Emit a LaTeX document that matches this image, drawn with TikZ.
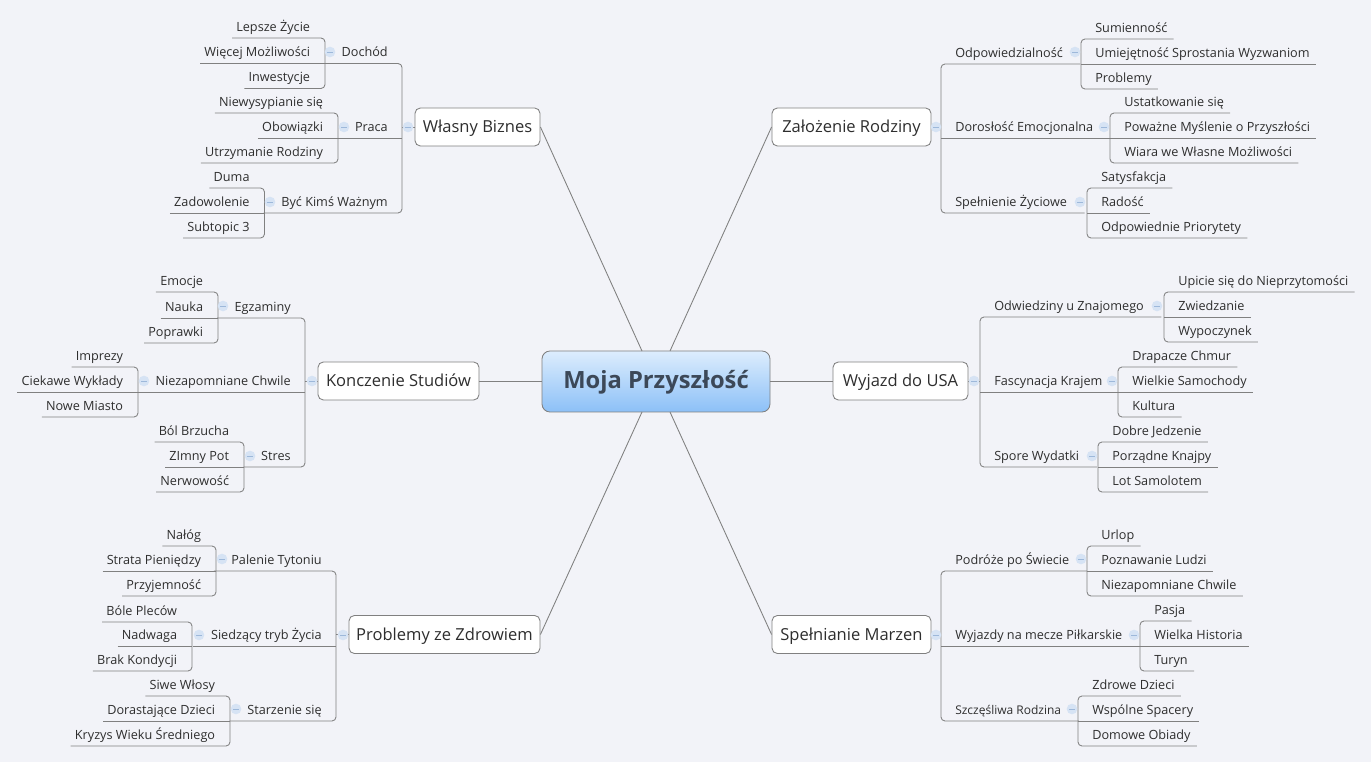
\documentclass[tikz,border=0pt]{standalone}
\usepackage{fontspec}
\setmainfont{Open Sans}
\definecolor{paper}{HTML}{F2F3F8}
\definecolor{wire}{HTML}{808080}
\definecolor{ink}{HTML}{2E2E2E}
\definecolor{rootink}{HTML}{3C4858}
\definecolor{foldblue}{HTML}{D6E3F4}
\definecolor{foldbar}{HTML}{9DB8DA}
\definecolor{RootTop}{HTML}{DDEDFD}
\definecolor{RootBottom}{HTML}{8CC0F7}
\tikzset{
  wired/.style={draw=wire,line width=0.65pt},
  elbow/.style={wired,rounded corners=3pt},
  label/.style={font=\fontsize{9.5pt}{11pt}\selectfont,text=ink,inner ysep=2.5pt,inner xsep=0pt,text height=7.5pt,text depth=2.5pt},
  leafl/.style={label,anchor=south east,execute at begin node=\kern3pt,execute at end node=\kern11pt},
  leafr/.style={label,anchor=south west,execute at begin node=\kern10.5pt,execute at end node=\kern4.5pt},
  subl/.style={label,anchor=south east,execute at begin node=\kern13pt,execute at end node=\kern10.5pt},
  subr/.style={label,anchor=south west,execute at begin node=\kern10.5pt,execute at end node=\kern13pt},
  topic/.style={draw=wire,line width=0.65pt,fill=white,rounded corners=4pt,font=\fontsize{12.4pt}{15pt}\selectfont,text=ink,minimum height=28.5pt,inner xsep=0pt,inner ysep=0pt,text height=11pt,text depth=2.5pt},
  root/.style={draw=wire,line width=0.65pt,rounded corners=6pt,top color=RootTop,bottom color=RootBottom,font=\fontsize{17.8pt}{22pt}\selectfont\bfseries,text=rootink,minimum width=171pt,minimum height=45.75pt,inner ysep=0pt,text height=13pt,text depth=3.2pt},
  fold/.style={circle,fill=foldblue,minimum size=8pt,inner sep=0pt,path picture={\draw[foldbar,line width=0.6pt] ([xshift=-2.2pt]path picture bounding box.center)--([xshift=2.2pt]path picture bounding box.center);}},
}
% three children hanging on one trunk
\newcommand{\twigl}[3]{\draw[elbow] (#1.south west)--(#1.south east)--(#3.south east)--(#3.south west); \draw[wired] (#2.south west)--(#2.south east);}
\newcommand{\twigr}[3]{\draw[elbow] (#1.south east)--(#1.south west)--(#3.south west)--(#3.south east); \draw[wired] (#2.south west)--(#2.south east);}
\begin{document}
\begin{tikzpicture}[x=0.75pt,y=-0.75pt]
  \fill[paper] (0,0) rectangle (1371,762);

  % centre
  \node [root] (przyszlosc) at (656,381.5) {Moja Przyszłość};
  \coordinate (rootnw) at (642,351);
  \coordinate (rootne) at (670,351);
  \coordinate (rootsw) at (642,412);
  \coordinate (rootse) at (670,412);

  % topics
  \node [topic,minimum width=93.75pt] (biznes) at (477.5,127) {Własny Biznes};
  \node [topic,minimum width=119.25pt] (rodzina) at (851.5,127) {Założenie Rodziny};
  \node [topic,minimum width=120.75pt] (studia) at (398.5,381) {Konczenie Studiów};
  \node [topic,minimum width=101.25pt] (usa) at (900.5,381) {Wyjazd do USA};
  \node [topic,minimum width=143.25pt] (zdrowie) at (444.5,634.5) {Problemy ze Zdrowiem};
  \node [topic,minimum width=119.25pt] (marzenia) at (851.5,634.5) {Spełnianie Marzen};

  % Wlasny Biznes
  \node [subl] (dochod) at (402,63.5) {Dochód};
  \node [subl] (praca) at (402,138) {Praca};
  \node [subl] (wazny) at (402,213) {Być Kimś Ważnym};
  \node [leafl] (zycie) at (325,38) {Lepsze Życie};
  \node [leafl] (mozliwosci) at (325,63.5) {Więcej Możliwości};
  \node [leafl] (inwestycje) at (325,88.5) {Inwestycje};
  \node [leafl] (niewysypianie) at (338,113) {Niewysypianie się};
  \node [leafl] (obowiazki) at (338,138) {Obowiązki};
  \node [leafl] (utrzymanie) at (338,163) {Utrzymanie Rodziny};
  \node [leafl] (duma) at (264.5,188) {Duma};
  \node [leafl] (zadowolenie) at (264.5,213) {Zadowolenie};
  \node [leafl] (subtopic) at (264.5,238) {Subtopic 3};

  % Zalozenie Rodziny
  \node [subr] (odpowiedzialnosc) at (941,64) {Odpowiedzialność};
  \node [subr] (dorosłosc) at (941,138) {Dorosłość Emocjonalna};
  \node [subr] (spelnienie) at (941,213) {Spełnienie Życiowe};
  \node [leafr] (sumiennosc) at (1081,39) {Sumienność};
  \node [leafr] (wyzwania) at (1081,64) {Umiejętność Sprostania Wyzwaniom};
  \node [leafr] (problemy) at (1081,89) {Problemy};
  \node [leafr] (ustatkowanie) at (1110,113) {Ustatkowanie się};
  \node [leafr] (myslenie) at (1110,138) {Poważne Myślenie o Przyszłości};
  \node [leafr] (wiara) at (1110,163) {Wiara we Własne Możliwości};
  \node [leafr] (satysfakcja) at (1087,188) {Satysfakcja};
  \node [leafr] (radosc) at (1087,213) {Radość};
  \node [leafr] (priorytety) at (1087,238) {Odpowiednie Priorytety};

  % Konczenie Studiow
  \node [subl] (egzaminy) at (305,318) {Egzaminy};
  \node [subl] (chwile) at (305,392) {Niezapomniane Chwile};
  \node [subl] (stres) at (305,467) {Stres};
  \node [leafl] (emocje) at (218,292) {Emocje};
  \node [leafl] (nauka) at (218,318) {Nauka};
  \node [leafl] (poprawki) at (218,343) {Poprawki};
  \node [leafl] (imprezy) at (138,367) {Imprezy};
  \node [leafl] (wyklady) at (138,392) {Ciekawe Wykłady};
  \node [leafl] (miasto) at (138,417) {Nowe Miasto};
  \node [leafl] (brzuch) at (244,442) {Ból Brzucha};
  \node [leafl] (pot) at (244,467) {ZImny Pot};
  \node [leafl] (nerwowosc) at (244,492) {Nerwowość};

  % Wyjazd do USA
  \node [subr] (znajomy) at (980,317) {Odwiedziny u Znajomego};
  \node [subr] (fascynacja) at (980,392) {Fascynacja Krajem};
  \node [subr] (wydatki) at (980,467) {Spore Wydatki};
  \node [leafr] (upicie) at (1164,292) {Upicie się do Nieprzytomości};
  \node [leafr] (zwiedzanie) at (1164,317) {Zwiedzanie};
  \node [leafr] (wypoczynek) at (1164,342) {Wypoczynek};
  \node [leafr] (drapacze) at (1118,367) {Drapacze Chmur};
  \node [leafr] (samochody) at (1118,392) {Wielkie Samochody};
  \node [leafr] (kultura) at (1118,417) {Kultura};
  \node [leafr] (jedzenie) at (1098,442) {Dobre Jedzenie};
  \node [leafr] (knajpy) at (1098,467) {Porządne Knajpy};
  \node [leafr] (samolot) at (1098,492) {Lot Samolotem};

  % Problemy ze Zdrowiem
  \node [subl] (tyton) at (336,571) {Palenie Tytoniu};
  \node [subl] (siedzacy) at (336,646) {Siedzący tryb Życia};
  \node [subl] (starzenie) at (336,721) {Starzenie się};
  \node [leafl] (nalog) at (216,546) {Nałóg};
  \node [leafl] (strata) at (216,571) {Strata Pieniędzy};
  \node [leafl] (przyjemnosc) at (216,596) {Przyjemność};
  \node [leafl] (plecy) at (192,622) {Bóle Pleców};
  \node [leafl] (nadwaga) at (192,646) {Nadwaga};
  \node [leafl] (kondycja) at (192,671) {Brak Kondycji};
  \node [leafl] (wlosy) at (230,696) {Siwe Włosy};
  \node [leafl] (dzieci) at (230,721) {Dorastające Dzieci};
  \node [leafl] (kryzys) at (230,746) {Kryzys Wieku Średniego};

  % Spelnianie Marzen
  \node [subr] (podroze) at (941,571) {Podróże po Świecie};
  \node [subr] (mecze) at (941,646) {Wyjazdy na mecze Piłkarskie};
  \node [subr,font=\fontsize{9pt}{11pt}\selectfont] (szczescie) at (941,721) {Szczęśliwa Rodzina};
  \node [leafr] (urlop) at (1087,546) {Urlop};
  \node [leafr] (ludzie) at (1087,571) {Poznawanie Ludzi};
  \node [leafr] (niezapomniane) at (1087,596) {Niezapomniane Chwile};
  \node [leafr] (pasja) at (1140,621) {Pasja};
  \node [leafr] (historia) at (1140,646) {Wielka Historia};
  \node [leafr] (turyn) at (1140,671) {Turyn};
  \node [leafr] (zdrowe) at (1078,696) {Zdrowe Dzieci};
  \node [leafr] (spacery) at (1078,721) {Wspólne Spacery};
  \node [leafr] (obiady) at (1078,746) {Domowe Obiady};

  % centre to topics
  \draw [wired] (biznes.east)--(rootnw);
  \draw [wired] (rodzina.west)--(rootne);
  \draw [wired] (zdrowie.east)--(rootsw);
  \draw [wired] (marzenia.west)--(rootse);
  \draw [wired] (studia.east)--(studia.east -| przyszlosc.west);
  \draw [wired] (usa.west)--(usa.west -| przyszlosc.east);

  % topics to trunks
  \draw [wired] (biznes.west)--(biznes.west -| praca.south east);
  \draw [wired] (rodzina.east)--(rodzina.east -| dorosłosc.south west);
  \draw [wired] (studia.west)--(studia.west -| chwile.south east);
  \draw [wired] (usa.east)--(usa.east -| fascynacja.south west);
  \draw [wired] (zdrowie.west)--(zdrowie.west -| siedzacy.south east);
  \draw [wired] (marzenia.east)--(marzenia.east -| mecze.south west);

  \twigl{dochod}{praca}{wazny}
  \twigl{zycie}{mozliwosci}{inwestycje}
  \twigl{niewysypianie}{obowiazki}{utrzymanie}
  \twigl{duma}{zadowolenie}{subtopic}
  \twigr{odpowiedzialnosc}{dorosłosc}{spelnienie}
  \twigr{sumiennosc}{wyzwania}{problemy}
  \twigr{ustatkowanie}{myslenie}{wiara}
  \twigr{satysfakcja}{radosc}{priorytety}
  \twigl{egzaminy}{chwile}{stres}
  \twigl{emocje}{nauka}{poprawki}
  \twigl{imprezy}{wyklady}{miasto}
  \twigl{brzuch}{pot}{nerwowosc}
  \twigr{znajomy}{fascynacja}{wydatki}
  \twigr{upicie}{zwiedzanie}{wypoczynek}
  \twigr{drapacze}{samochody}{kultura}
  \twigr{jedzenie}{knajpy}{samolot}
  \twigl{tyton}{siedzacy}{starzenie}
  \twigl{nalog}{strata}{przyjemnosc}
  \twigl{plecy}{nadwaga}{kondycja}
  \twigl{wlosy}{dzieci}{kryzys}
  \twigr{podroze}{mecze}{szczescie}
  \twigr{urlop}{ludzie}{niezapomniane}
  \twigr{pasja}{historia}{turyn}
  \twigr{zdrowe}{spacery}{obiady}

  % collapse marks
  \node [fold] (foldbiznes) at (408,127) {};
  \node [fold] (folddochod) at (330,52) {};
  \node [fold] (foldpraca) at (344,127) {};
  \node [fold] (foldwazny) at (270,202) {};
  \node [fold] (foldrodzina) at (936,127) {};
  \node [fold] (foldodp) at (1075,52) {};
  \node [fold] (folddor) at (1104,127) {};
  \node [fold] (foldspel) at (1080,202) {};
  \node [fold] (foldstudia) at (312,381) {};
  \node [fold] (foldegz) at (223,306) {};
  \node [fold] (foldchwile) at (144,381) {};
  \node [fold] (foldstres) at (250,456) {};
  \node [fold] (foldusa) at (974,381) {};
  \node [fold] (foldznaj) at (1157,306) {};
  \node [fold] (foldfasc) at (1112,381) {};
  \node [fold] (foldwyd) at (1092,456) {};
  \node [fold] (foldzdrowie) at (343,635) {};
  \node [fold] (foldtyton) at (222,559) {};
  \node [fold] (foldsied) at (199,635) {};
  \node [fold] (foldstarz) at (236,709) {};
  \node [fold] (foldmarz) at (936,635) {};
  \node [fold] (foldpod) at (1081,559) {};
  \node [fold] (foldmecz) at (1134,635) {};
  \node [fold] (foldszcz) at (1072,709) {};
\end{tikzpicture}
\end{document}
